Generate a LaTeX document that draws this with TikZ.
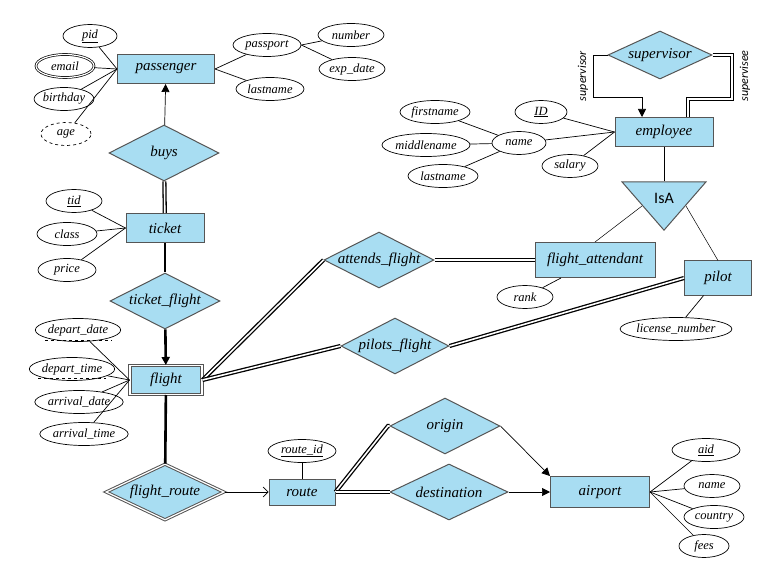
\documentclass[tikz,border=0pt]{standalone}
\usepackage{fontspec}
\setmainfont{Liberation Serif}
\newfontfamily\sansf{Carlito}
\usetikzlibrary{shapes.geometric,arrows.meta}
\definecolor{fillb}{HTML}{A8DDF2}
\definecolor{bord}{HTML}{555555}
\begin{document}
\begin{tikzpicture}[x=1pt,y=-1pt,
  ent/.style={draw=bord,fill=fillb,line width=1pt,minimum height=29pt,font=\fontsize{15}{16}\selectfont\itshape,inner sep=2pt},
  rel/.style={diamond,draw=bord,fill=fillb,line width=1pt,aspect=2,inner sep=0pt,font=\fontsize{15}{16}\selectfont\itshape},
  att/.style={ellipse,draw,line width=0.7pt,inner sep=0pt,minimum height=23pt,font=\fontsize{12.5}{13}\selectfont\itshape},
  ln/.style={line width=0.7pt},
  tot/.style={double,double distance=1.6pt,line width=1.3pt},
  thk/.style={line width=2.6pt},
  ar/.style={-{Triangle[length=8pt,width=8pt]}}]
\useasboundingbox (0,0) rectangle (780,567);
% passenger
\node[ent,minimum width=97pt] (pas) at (166,69) {passenger};
\node[att,minimum width=54pt] (pid) at (90,36) {\underline{pid}};
\node[att,minimum width=58pt,double,double distance=1.2pt] (email) at (65,66) {email};
\node[att,minimum width=56pt] (bd) at (64,99) {birthday};
\node[att,minimum width=50pt,dashed] (age) at (66,134) {age};
\node[att,minimum width=68pt] (pp) at (267,45) {passport};
\node[att,minimum width=68pt] (ln1) at (270,89) {lastname};
\node[att,minimum width=66pt] (num) at (351,35) {number};
\node[att,minimum width=66pt] (exp) at (352,69) {exp\_date};
\foreach \a in {pid,email,bd,age} \draw[ln] (\a) -- (pas.west);
\draw[ln] (pas.east) -- (pp); \draw[ln] (pas.east) -- (ln1);
\draw[ln] (pp.east) -- (num); \draw[ln] (pp.east) -- (exp);
\node[rel,minimum width=110pt,minimum height=56pt] (buys) at (164,153) {buys};
\draw[ln,ar] (buys) -- (pas);
% ticket
\node[ent,minimum width=78pt] (tic) at (165,228) {ticket};
\node[att,minimum width=56pt] (tid) at (74,201) {\underline{tid}};
\node[att,minimum width=60pt] (cls) at (67,234) {class};
\node[att,minimum width=58pt] (pr) at (67,270) {price};
\foreach \a in {tid,cls,pr} \draw[ln] (\a) -- (tic.west);
\draw[tot] (buys) -- (tic);
\node[rel,minimum width=110pt,minimum height=56pt] (tf) at (165,301) {ticket\_flight};
\draw[thk] (tic) -- (tf);
% flight
\node[ent,minimum width=72pt,double,double distance=1.2pt] (fl) at (166,380) {flight};
\draw[thk,ar] (tf) -- (fl);
\node[att,minimum width=84pt] (dd) at (78,330) {depart\_date};
\node[att,minimum width=78pt] (dt) at (72,369) {depart\_time};
\node[att,minimum width=86pt] (ad) at (79,402) {arrival\_date};
\node[att,minimum width=86pt] (at) at (84,434) {arrival\_time};
\draw[dashed,line width=0.8pt] (45,340) -- (112,340);
\draw[dashed,line width=0.8pt] (38,378) -- (106,378);
\foreach \a in {dd,dt,ad,at} \draw[ln] (\a) -- (fl.west);
\node[rel,minimum width=118pt,minimum height=56pt,double,double distance=1.2pt] (fr) at (165,492) {flight\_route};
\draw[thk] (fl) -- (fr);
\node[ent,minimum width=66pt,minimum height=26pt] (rt) at (302,492) {route};
\node[att,minimum width=68pt] (rid) at (302,451) {\underline{route\_id}};
\draw[ln] (rid) -- (rt);
\draw[ln,-{Straight Barb[length=5pt]}] (fr) -- (rt);
\node[rel,minimum width=110pt,minimum height=56pt] (org) at (445,426) {origin};
\node[rel,minimum width=118pt,minimum height=56pt] (dst) at (449,492) {destination};
\node[ent,minimum width=99pt,minimum height=31pt] (ap) at (600,492) {airport};
\draw[tot] (rt.east) -- (388,426) -- (org.west);
\draw[tot] (rt.east) -- (dst.west);
\draw[ln,ar] (org.east) -- (ap.north west);
\draw[ln,ar] (dst) -- (ap);
\node[att,minimum width=68pt] (aid) at (706,450) {\underline{aid}};
\node[att,minimum width=56pt] (nm) at (712,486) {name};
\node[att,minimum width=60pt] (cty) at (714,517) {country};
\node[att,minimum width=50pt] (fee) at (704,546) {fees};
\foreach \a in {aid,nm,cty,fee} \draw[ln] (\a) -- (ap.east);
% employee
\node[ent,minimum width=98pt] (emp) at (664,132) {employee};
\node[rel,minimum width=104pt,minimum height=48pt] (sup) at (660,55) {supervisor};
\coordinate (c1) at (593,55);
\draw[ln,ar] (sup.west) -- (c1) -- (593,97) -- (642,97) -- (642,117);
\draw[ln] (sup.east) ++(0,-1.5) -- (733.5,53.5) -- (733.5,100.5) -- (689.5,100.5) -- (689.5,117);
\draw[ln] (sup.east) ++(0,1.5) -- (730.5,56.5) -- (730.5,97.5) -- (686.5,97.5) -- (686.5,117);
\node[rotate=90,font=\sansf\fontsize{12}{13}\selectfont\itshape] (lsr) at (583,76) {supervisor};
\node[rotate=90,font=\sansf\fontsize{12}{13}\selectfont\itshape] (lse) at (745,76) {supervisee};
\node[att,minimum width=52pt] (id) at (541,112) {\underline{ID}};
\node[att,minimum width=54pt] (nme) at (519,143) {name};
\node[att,minimum width=70pt] (fn) at (435,112) {firstname};
\node[att,minimum width=88pt] (mn) at (426,145) {middlename};
\node[att,minimum width=70pt] (lnm) at (443,176) {lastname};
\node[att,minimum width=56pt] (sal) at (570,166) {salary};
\foreach \a in {id,nme,sal} \draw[ln] (\a) -- (emp.west);
\foreach \a in {fn,mn,lnm} \draw[ln] (\a) -- (nme);
\node[isosceles triangle,shape border rotate=-90,isosceles triangle apex angle=82,draw=bord,fill=fillb,line width=1pt,minimum width=84pt,minimum height=48pt,inner sep=0pt] (isa) at (664,201) {};
\node[font=\sansf\fontsize{16}{17}\selectfont] (isat) at (664,198) {IsA};
\coordinate (isatop) at (664,181);
\draw[ln] (emp) -- (isatop);
\node[ent,minimum width=120pt,minimum height=35pt] (fa) at (595,260) {flight\_attendant};
\node[ent,minimum width=67pt,minimum height=34pt] (pil) at (718,278) {pilot};
\coordinate (i1) at (642,206); \coordinate (i2) at (686,206);
\draw[line width=0.5pt] (i1) -- (fa.north);
\draw[line width=0.5pt] (i2) -- (pil.north);
\node[att,minimum width=56pt] (rk) at (525,297) {rank};
\draw[ln] (rk) -- (fa);
\node[att,minimum width=110pt] (lic) at (676,329) {license\_number};
\draw[ln] (lic) -- (pil);
\node[rel,minimum width=108pt,minimum height=56pt] (af) at (379,260) {attends\_flight};
\node[rel,minimum width=108pt,minimum height=56pt] (pf) at (395,346) {pilots\_flight};
\draw[tot] (fl.east) -- (af.west);
\draw[tot] (fl.east) -- (pf.west);
\draw[tot] (af.east) -- (fa.west);
\draw[tot] (pf.east) -- (pil.west);
\end{tikzpicture}
\end{document}
